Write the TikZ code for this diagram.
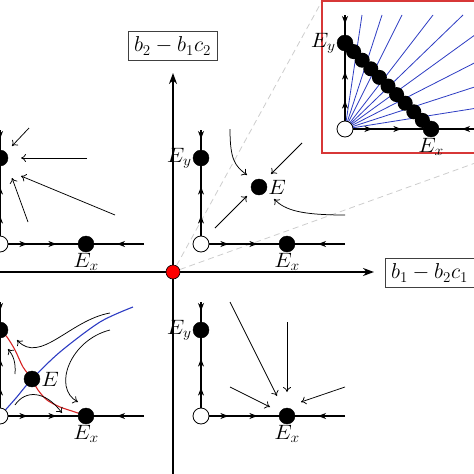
\documentclass[tikz,border=0pt]{standalone}
\usetikzlibrary{arrows.meta,calc,decorations.markings}
\pgfdeclarelayer{background}
\pgfsetlayers{background,main}
\definecolor{trajblue}{RGB}{45,60,195}
\definecolor{sepred}{RGB}{215,35,35}
\definecolor{boxred}{RGB}{215,55,55}
\definecolor{dashgray}{RGB}{205,205,205}
\tikzset{
  midtip/.tip={Stealth[length=8pt,width=6pt,inset=2.5pt]},
  blackdot/.style={circle, fill=black, draw=black, inner sep=0pt, minimum size=16pt},
  opendot/.style={circle, fill=white, draw=black, line width=0.8pt, inner sep=0pt, minimum size=16pt},
  diagdot/.style={circle, fill=black, inner sep=0pt, minimum size=15pt},
  reddot/.style={circle, fill=red, draw=black, line width=0.6pt, inner sep=0pt, minimum size=14pt},
  qaxis/.style={line width=1.3pt},
  mainaxis/.style={line width=1.8pt, -{Stealth[length=11pt,width=8pt]}},
  traj/.style={line width=0.75pt, -{To[length=5pt,width=8pt]}},
  mktwo/.style 2 args={decoration={markings, mark=at position #1 with {\arrow{midtip}}, mark=at position #2 with {\arrow{midtip}}}, postaction={decorate}},
  mkone/.style={decoration={markings, mark=at position #1 with {\arrow{midtip}}}, postaction={decorate}},
  elabel/.style={inner sep=1pt},
  labelbox/.style={draw=black!75, line width=0.8pt, minimum width=89pt, minimum height=29pt, inner sep=2pt},
  dashln/.style={dashgray, line width=0.8pt, dash pattern=on 6pt off 4pt},
  blueln/.style={trajblue, line width=0.8pt},
}
\newcommand\elab[1]{\scalebox{1.08}[1.0]{\huge$#1$}}
\newcommand\alab[1]{\scalebox{1.04}{\huge$#1$}}
\newcommand\quadportrait[3]{%
  \coordinate (#1o) at (#2,#3);
  \node[opendot] (#1O) at (#1o) {};
  \node[blackdot] (#1X) at ($(#1o)+(86,0)$) {};
  \node[blackdot] (#1Y) at ($(#1o)+(0,-86)$) {};
  \coordinate (#1R) at ($(#1o)+(144,0)$);
  \coordinate (#1T) at ($(#1o)+(0,-114)$);
  \draw[qaxis, mktwo={19pt}{48pt}] (#1O) -- (#1X);
  \draw[qaxis, mkone={27pt}] (#1R) -- (#1X);
  \draw[qaxis, mktwo={20pt}{49pt}] (#1O) -- (#1Y);
  \draw[qaxis, mkone={9pt}] (#1T) -- (#1Y);
}
\begin{document}
\begin{tikzpicture}[x=1pt,y=-1pt]
\useasboundingbox (0,0) rectangle (474,474);
\clip (0,0) rectangle (474,474);

% axis labels
\node[labelbox] (lbv) at (172.5,46) {\alab{b_2-b_1c_2}};
\node[labelbox] (lbh) at (429.5,273) {\alab{b_1-b_2c_1}};

% main axes
\coordinate (axL) at (-5,272);
\coordinate (axR) at (374,272);
\coordinate (axB) at (173,480);
\coordinate (axT) at (173,73);
\draw[mainaxis] (axL) -- (axR);
\draw[mainaxis] (axB) -- (axT);
\node[reddot] (cen) at (173,272) {};

% inset frame and zoom lines
\coordinate (inTL) at (322,1);
\coordinate (inBR) at (503,153);
\begin{pgfonlayer}{background}
  \draw[dashln] (cen) -- (inTL);
  \draw[dashln] (cen) -- (inBR);
  \draw[boxred, line width=1.6pt, fill=white] (inTL) rectangle (inBR);
\end{pgfonlayer}

% quadrants
\quadportrait{tr}{201}{244}
\quadportrait{tl}{0}{244}
\quadportrait{br}{201}{416}
\quadportrait{bl}{0}{416}
\quadportrait{in}{345}{129}

% inset: fan of blue lines and line of equilibria
\begin{pgfonlayer}{background}
  \foreach \ex/\ey in {362/15,382/15,402/15,433/15,463/15,490/24,490/55,490/82,490/106}
    \draw[blueln] (ino) -- (\ex,\ey);
\end{pgfonlayer}
\foreach \t in {1,...,9}
  \node[diagdot] (d\t) at ({345+8.6*\t},{43+8.6*\t}) {};

% interior equilibria
\node[blackdot] (trE) at (259,187) {};
\node[blackdot] (blE) at (32,379) {};

% bottom-left separatrices
\begin{pgfonlayer}{background}
  \draw[sepred, line width=1.1pt] plot[smooth] coordinates {(blY) (7,337) (15,350) (23,367) (blE) (38,390) (47,400) (60,407) (75,412) (blX)};
  \draw[trajblue, line width=1.1pt] plot[smooth] coordinates {(blO) (16,398) (blE) (60,352) (100,322) (133,307)};
\end{pgfonlayer}

% labels
\node[elabel, anchor=east] (ltrY) at (trY.west) {\elab{E_y}};
\node[elabel, anchor=north] (ltrX) at (trX.south) {\elab{E_x}};
\node[elabel, anchor=west] (ltrE) at (trE.east) {\elab{E}};
\node[elabel, anchor=north] (ltlX) at (tlX.south) {\elab{E_x}};
\node[elabel, anchor=north] (lblX) at (blX.south) {\elab{E_x}};
\node[elabel, anchor=west] (lblE) at (blE.east) {\elab{E}};
\node[elabel, anchor=east] (lbrY) at (brY.west) {\elab{E_y}};
\node[elabel, anchor=north] (lbrX) at (brX.south) {\elab{E_x}};
\node[elabel, anchor=east] (linY) at (inY.west) {\elab{E_y}};
\node[elabel, anchor=north] (linX) at (inX.south) {\elab{E_x}};

% trajectories: top right
\draw[traj] (230,129) .. controls (230,160) and (235,166) .. (247,175);
\draw[traj] (302,143) -- (271,174);
\draw[traj] (215,228) -- (247,196);
\draw[traj] (345,215) .. controls (300,215) and (285,210) .. (274,199);
% top left
\draw[traj] (29,128) -- (12,146);
\draw[traj] (87,158) -- (21,158);
\draw[traj] (28,222) -- (12,178);
\draw[traj] (115,215) -- (21,176);
% bottom right
\draw[traj] (230,302) -- (277,396);
\draw[traj] (287,322) -- (287,392);
\draw[traj] (230,387) -- (270,407);
\draw[traj] (345,387) -- (301,402);
% bottom left
\draw[traj] (110,313) .. controls (70,320) and (40,365) .. (17,340);
\draw[traj] (110,330) .. controls (70,340) and (52,388) .. (78,402);
\draw[traj] (15,374) .. controls (16,362) and (13,355) .. (8,349);
\draw[traj] (15,405) .. controls (25,390) and (45,390) .. (62,413);
\end{tikzpicture}
\end{document}
